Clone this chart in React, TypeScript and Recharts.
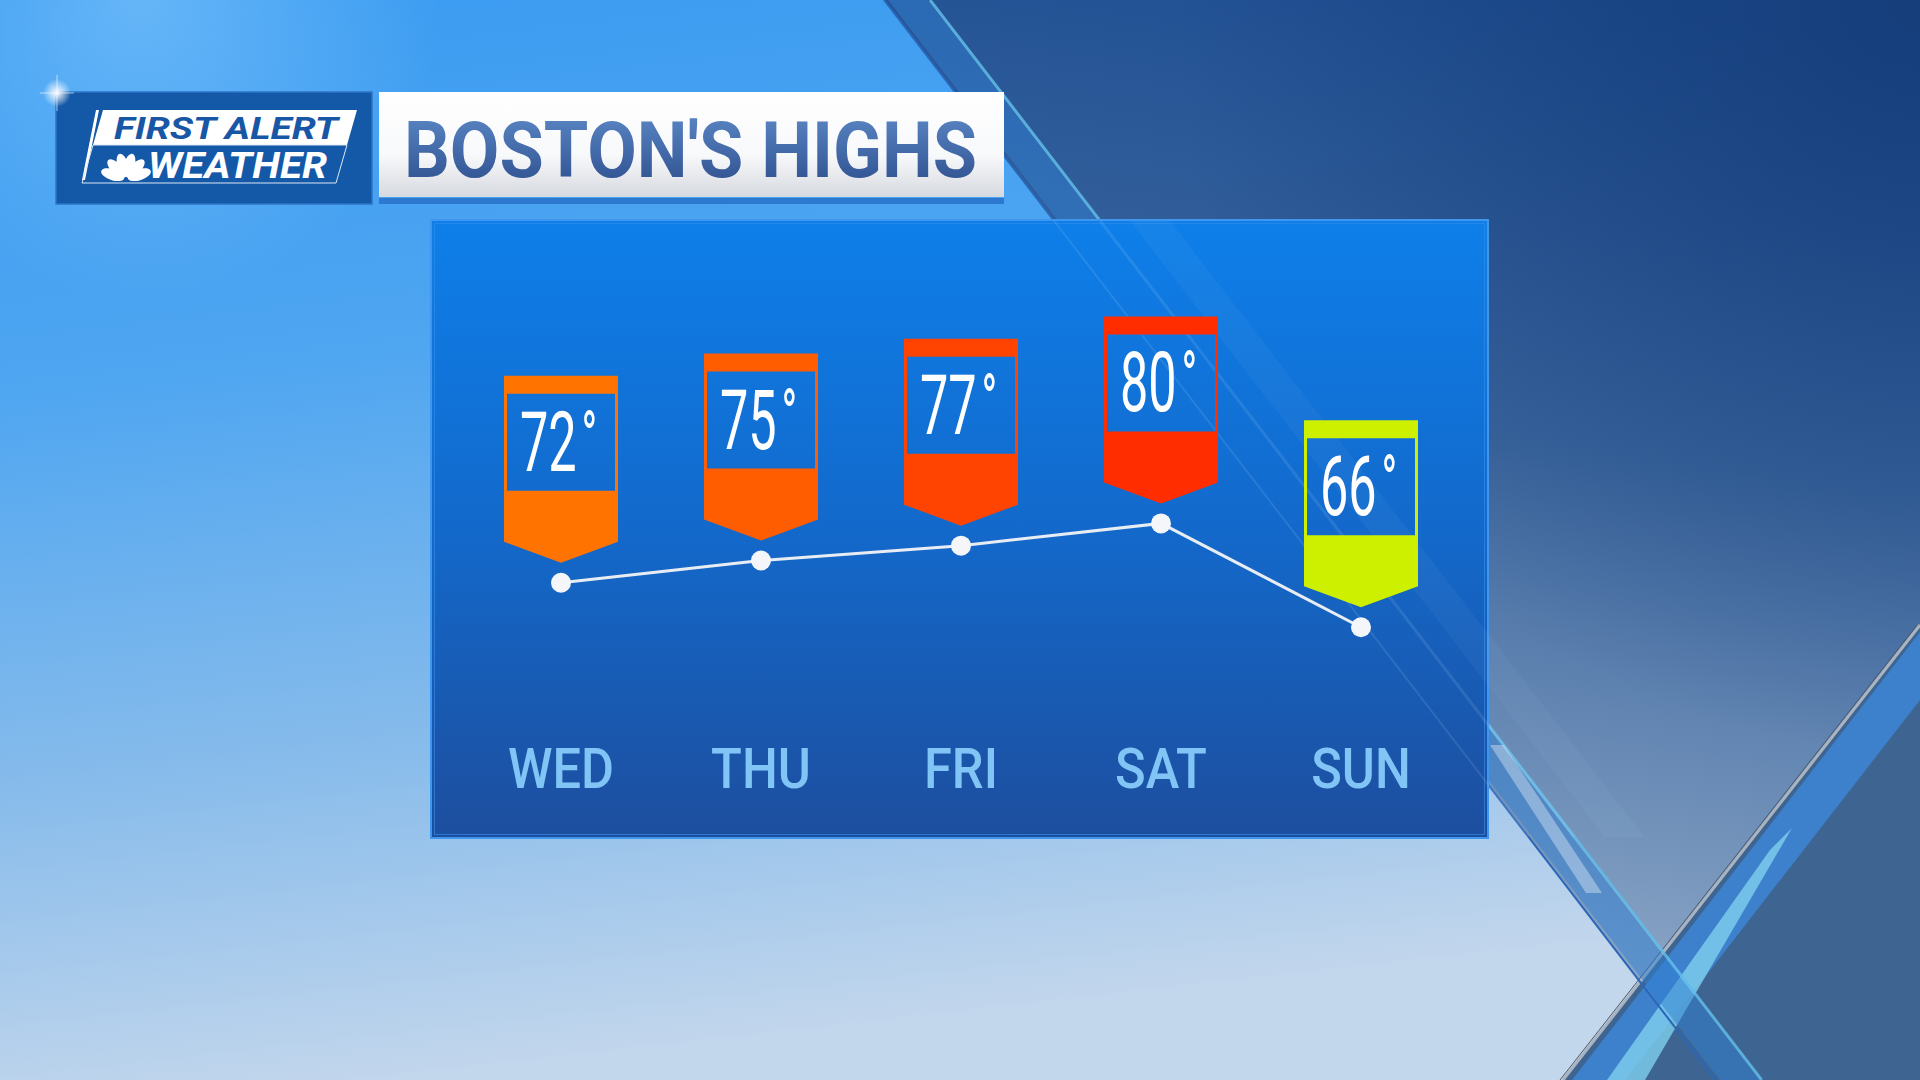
import { LineChart, Line, XAxis, YAxis } from 'recharts';

// forecast highs
const days = ['WED', 'THU', 'FRI', 'SAT', 'SUN'];
const highs = [72, 75, 77, 80, 66];
const markerColors = ['#ff7400', '#ff5d00', '#ff4300', '#ff2d00', '#cdef00'];
const title = "BOSTON'S HIGHS";

const data = days.map((day, i) => ({ day, high: highs[i] }));

const streakX = (x0: number, y: number) => x0 + 0.77 * y;

function Backdrop() {
  const steelPts = `${streakX(884, 0)},0 1920,0 1920,625 1563,1080 ${streakX(884, 1080)},1080`;
  return (
    <svg width={1920} height={1080} style={{ position: 'absolute', left: 0, top: 0 }}>
      <defs>
        <linearGradient id="sky" x1="0" y1="0" x2="0.2" y2="1">
          <stop offset="0" stopColor="#3a9bf1" />
          <stop offset="0.35" stopColor="#4fa6f1" />
          <stop offset="0.7" stopColor="#86bbeb" />
          <stop offset="1" stopColor="#c2d6ec" />
        </linearGradient>
        <linearGradient id="steel" gradientUnits="userSpaceOnUse" x1="1600" y1="0" x2="1450" y2="980">
          <stop offset="0" stopColor="#1f4f93" />
          <stop offset="0.45" stopColor="#3b669e" />
          <stop offset="1" stopColor="#8ea8c8" />
        </linearGradient>
        <radialGradient id="corner" cx="1920" cy="0" r="750" gradientUnits="userSpaceOnUse">
          <stop offset="0" stopColor="#123873" stopOpacity="0.75" />
          <stop offset="1" stopColor="#123873" stopOpacity="0" />
        </radialGradient>
        <radialGradient id="glow" cx="140" cy="0" r="300" gradientUnits="userSpaceOnUse">
          <stop offset="0" stopColor="#8fd0ff" stopOpacity="0.5" />
          <stop offset="1" stopColor="#8fd0ff" stopOpacity="0" />
        </radialGradient>
        <linearGradient id="panel" x1="0" y1="0" x2="0" y2="1">
          <stop offset="0" stopColor="#0e7fe9" />
          <stop offset="0.5" stopColor="#1369cb" />
          <stop offset="1" stopColor="#1d4e9e" />
        </linearGradient>
        <linearGradient id="titleBox" x1="0" y1="0" x2="0" y2="1">
          <stop offset="0" stopColor="#ffffff" />
          <stop offset="0.6" stopColor="#f8f9fb" />
          <stop offset="1" stopColor="#d6d9df" />
        </linearGradient>
        <linearGradient id="titleText" x1="0" y1="0" x2="0" y2="1">
          <stop offset="0" stopColor="#5f8bc9" />
          <stop offset="1" stopColor="#2a4b8a" />
        </linearGradient>
        <radialGradient id="spark" cx="0.5" cy="0.5" r="0.5">
          <stop offset="0" stopColor="#ffffff" stopOpacity="1" />
          <stop offset="1" stopColor="#ffffff" stopOpacity="0" />
        </radialGradient>
      </defs>

      <rect width={1920} height={1080} fill="url(#sky)" />
      <rect width={1920} height={1080} fill="url(#glow)" />

      {/* darker right side, past the streak */}
      <polygon points={steelPts} fill="url(#steel)" />
      <polygon points={steelPts} fill="url(#corner)" />
      {/* bottom right wedge */}
      <polygon points="1920,625 1920,1080 1563,1080" fill="#3e6592" />
      <polygon points="1920,632 1920,700 1625,1080 1572,1080" fill="#3d80cc" />
      <polygon points="1770,850 1792,828 1645,1080 1607,1080" fill="#7fd0ee" opacity={0.8} />
      <line x1={1563} y1={1080} x2={1920} y2={625} stroke="#a9b4c0" strokeWidth={3} />
      <line x1={1560} y1={1080} x2={1917} y2={625} stroke="#4b5a6c" strokeWidth={1} />

      {/* streak lines */}
      <polygon points={`${streakX(888, 0)},0 ${streakX(928, 0)},0 ${streakX(928, 1080)},1080 ${streakX(888, 1080)},1080`} fill="#2f7fd2" opacity={0.5} />
      <line x1={streakX(884, 0)} y1={0} x2={streakX(884, 1080)} y2={1080} stroke="#2a67b8" strokeWidth={2} />
      <line x1={streakX(930, 0)} y1={0} x2={streakX(930, 1080)} y2={1080} stroke="#62bde9" strokeWidth={3} opacity={0.85} />
      <polygon points="1490,745 1504,745 1602,893 1586,893" fill="#ffffff" opacity={0.35} />

      {/* panel */}
      <rect x={431} y={220} width={1057} height={618} fill="url(#panel)" stroke="#3f96ee" strokeWidth={2} />
      <rect x={434.5} y={223.5} width={1050} height={611} fill="none" stroke="#2f8ae8" strokeWidth={1} opacity={0.7} />
      <g opacity={0.12}>
        <line x1={streakX(884, 221)} y1={221} x2={streakX(884, 837)} y2={837} stroke="#bfe4ff" strokeWidth={2} />
        <line x1={streakX(930, 221)} y1={221} x2={streakX(930, 837)} y2={837} stroke="#bfe4ff" strokeWidth={3} />
        <polygon points={`${streakX(960, 221)},221 ${streakX(1000, 221)},221 ${streakX(1000, 837)},837 ${streakX(960, 837)},837`} fill="#bfe4ff" opacity={0.4} />
      </g>

      {/* logo */}
      <rect x={56} y={92} width={316} height={112} fill="#1458a8" stroke="#2c74c6" strokeWidth={1.5} />
      <polygon points="96,110 99,110 85,180 82,180" fill="#ffffff" />
      <polygon points="103,110 357,110 347,145 93,145" fill="#ffffff" />
      <polygon points="93,145 347,145 336,183 82,183" fill="none" stroke="#dce8f6" strokeWidth={1} />
      <text x={114} y={138.5} fontFamily="Roboto" fontWeight={700} fontStyle="italic" fontSize={31} fill="#1856a6" textLength={224} lengthAdjust="spacingAndGlyphs">
        FIRST ALERT
      </text>
      <g fill="#ffffff">
        {[-72, -43, -14, 14, 43, 72].map((a) => (
          <ellipse key={a} cx={0} cy={-14} rx={5.5} ry={12} transform={`translate(126,179) rotate(${a})`} />
        ))}
      </g>
      <text x={148} y={178} fontFamily="Roboto" fontWeight={700} fontStyle="italic" fontSize={37.5} fill="#ffffff" textLength={179} lengthAdjust="spacingAndGlyphs">
        WEATHER
      </text>
      <ellipse cx={57} cy={93} rx={14} ry={14} fill="url(#spark)" />
      <line x1={57} y1={75} x2={57} y2={111} stroke="#ffffff" strokeWidth={1} opacity={0.6} />
      <line x1={40} y1={93} x2={74} y2={93} stroke="#ffffff" strokeWidth={1} opacity={0.6} />

      {/* title */}
      <rect x={379} y={92} width={625} height={105} fill="url(#titleBox)" />
      <rect x={379} y={198} width={625} height={6} fill="#2d79cf" />
      <text x={404} y={176.5} fontFamily="Roboto" fontWeight={700} fontSize={78} fill="url(#titleText)" textLength={573} lengthAdjust="spacingAndGlyphs">
        {title}
      </text>
    </svg>
  );
}

function HighMarker(props: any) {
  const { cx, cy, index, payload } = props;
  if (cx == null || cy == null) return null;
  const color = markerColors[index];
  const tip = cy - 20;
  const top = tip - 187;
  const l = cx - 57;
  const r = cx + 57;
  const shoulder = top + 166;
  const d =
    `M${l},${top}H${r}V${shoulder}L${cx},${tip}L${l},${shoulder}Z ` +
    `M${l + 3},${top + 18}V${top + 115}H${r - 3}V${top + 18}Z`;
  return (
    <g key={`marker-${index}`}>
      <path d={d} fill={color} fillRule="evenodd" />
      <text
        transform={`translate(${cx - 41},${top + 95}) scale(0.6,1)`}
        fontFamily="Roboto"
        fontSize={84}
        fill="#ffffff"
      >
        {payload.high}
        <tspan fontSize={70} dx={8} dy={-10}>
          °
        </tspan>
      </text>
      <circle cx={cx} cy={cy} r={10} fill="#f4f6f9" />
    </g>
  );
}

function DayTick(props: any) {
  const { x, y, payload } = props;
  return (
    <text
      transform={`translate(${x},${y + 34}) scale(0.92,1)`}
      textAnchor="middle"
      fontFamily="Roboto"
      fontWeight={500}
      fontSize={55}
      fill="#80c5f5"
    >
      {payload.value}
    </text>
  );
}

export default function App() {
  return (
    <div style={{ position: 'absolute', left: 0, top: 0, width: 1920, height: 1080, overflow: 'hidden' }}>
      <Backdrop />
      <div style={{ position: 'absolute', left: 0, top: 0 }}>
        <LineChart width={1920} height={1080} data={data} margin={{ top: 375, right: 559, bottom: 274, left: 561 }}>
          <XAxis dataKey="day" scale="point" axisLine={false} tickLine={false} interval={0} height={60} tick={<DayTick />} />
          <YAxis hide domain={[50, 100]} />
          <Line
            dataKey="high"
            stroke="#e8edf3"
            strokeWidth={3}
            dot={(p: any) => <HighMarker key={`m-${p.index}`} {...p} />}
            activeDot={false}
            isAnimationActive={false}
          />
        </LineChart>
      </div>
    </div>
  );
}
